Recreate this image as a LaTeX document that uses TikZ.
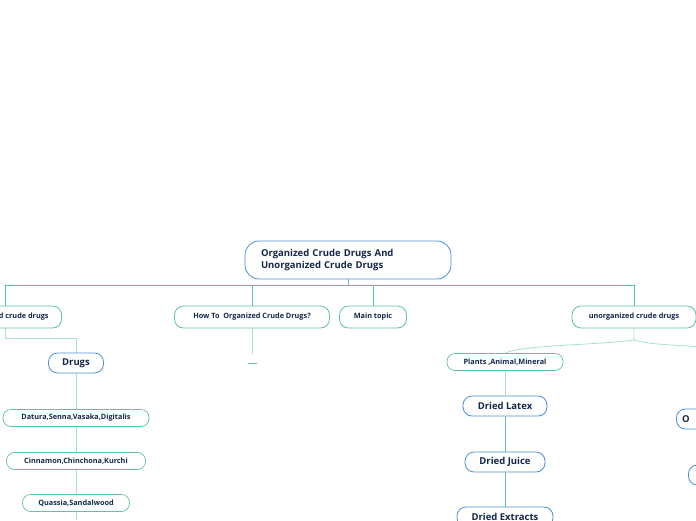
\documentclass[tikz,border=0pt]{standalone}
\usepackage{fontspec}
\setmainfont{Open Sans}
\usetikzlibrary{positioning}

\definecolor{teal}{HTML}{5CC3A5}
\definecolor{pale}{HTML}{A8DFCF}
\definecolor{blue}{HTML}{4A90D9}
\definecolor{navy}{HTML}{14284B}

\begin{document}
\begin{tikzpicture}[x=1pt, y=-1pt,
    topic/.style={rectangle, draw=teal, fill=white, rounded corners=9pt, line width=0.8pt, minimum height=22pt, inner xsep=4pt, font=\bfseries\fontsize{7.3}{8}\selectfont, text=navy},
    sub/.style={rectangle, draw=blue, fill=white, rounded corners=9pt, line width=0.8pt, minimum height=20pt, inner xsep=4pt, font=\bfseries\fontsize{9.5}{10}\selectfont, text=navy},
    leaf/.style={rectangle, draw=teal, fill=white, rounded corners=8pt, line width=0.7pt, minimum height=17pt, inner xsep=3pt, font=\bfseries\fontsize{7.3}{8}\selectfont, text=navy},
    link/.style={draw=teal, line width=0.8pt},
    thin/.style={draw=pale, line width=0.8pt}]
    \useasboundingbox (0,0) rectangle (696,520);
    \clip (0,0) rectangle (696,520);

    % main branches
    \draw[link] (348,260) -- (348,285) coordinate (hub);
    \draw[link] (5,328) -- (5,285) -- (634,285) -- (634,310);
    \draw[link] (252,285) -- (252,310);
    \draw[link] (373,285) -- (373,310);

    \node[rectangle, draw=blue, fill=white, rounded corners=14pt, line width=0.8pt, minimum width=206pt, minimum height=38pt, text width=174pt, align=left, font=\bfseries\fontsize{9.5}{12}\selectfont, text=navy] (root) at (348,260) {Organized Crude Drugs And\\Unorganized Crude Drugs};

    \node[topic, anchor=east, inner xsep=13pt] (organized) at (62,317) {organized crude drugs};
    \node[topic, minimum width=155pt] (howto) at (252,317) {How To\ \ Organized Crude Drugs?};
    \node[topic, minimum width=67pt] (main) at (373,317) {Main topic};
    \node[topic, minimum width=124pt] (unorg) at (634,317) {unorganized crude drugs};

    % left branch
    \draw[thin] (5,328) -- (5,338) -- (76,338) -- (76,354);
    \node[sub, minimum width=55pt] (drugs) at (76,363) {Drugs};
    \node[leaf, minimum width=146pt] (datura) at (76,418) {Datura,Senna,Vasaka,Digitalis};
    \node[leaf, minimum width=139pt] (cinnamon) at (76,461) {Cinnamon,Chinchona,Kurchi};
    \node[leaf, minimum width=107pt] (quassia) at (76,503) {Quassia,Sandalwood};
    \draw[thin] (drugs) -- (datura);
    \draw[thin] (datura) -- (cinnamon);
    \draw[thin] (cinnamon) -- (quassia);
    \draw[thin] (quassia) -- (76,520);

    % middle branch
    \draw[thin] (howto) -- (252,354);
    \draw[link] (248,363) -- (257,363);

    % right branch
    \node[leaf, minimum width=116pt] (plants) at (505,362) {Plants ,Animal,Mineral};
    \draw[thin] (unorg.south) -- (634,340) .. controls (600,345) and (520,345) .. (plants.north);
    \draw[thin] (634,340) .. controls (650,345) and (680,345) .. (700,347);
    \node[sub, minimum width=84pt] (latex) at (505,406) {Dried Latex};
    \node[sub, minimum width=80pt] (juice) at (505,462) {Dried Juice};
    \node[sub, minimum width=96pt] (extracts) at (505,517) {Dried Extracts};
    \draw[thin] (plants) -- (latex);
    \draw[link] (latex) -- (juice);
    \draw[link] (juice) -- (extracts);
    \node[sub, anchor=west, minimum width=30pt] (other) at (676,419) {O\phantom{xx}};
    \node[sub, anchor=west, minimum width=30pt] (more) at (688,475) {};
\end{tikzpicture}
\end{document}
